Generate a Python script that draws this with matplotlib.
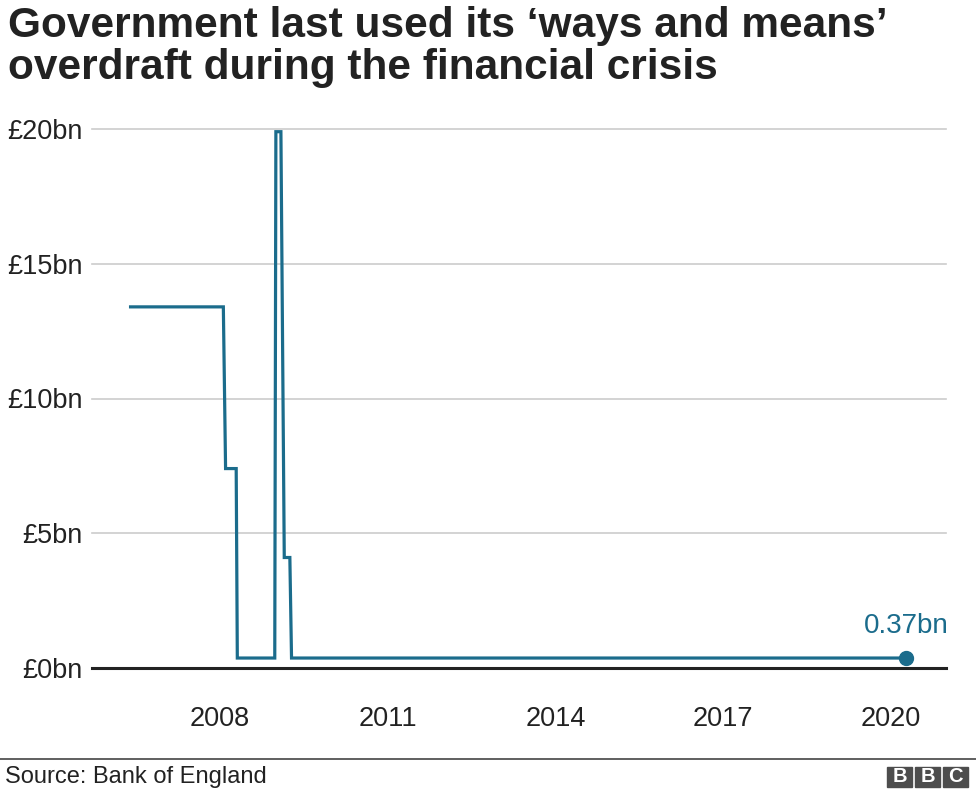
import matplotlib
matplotlib.use("Agg")
import matplotlib.pyplot as plt
from matplotlib.patches import Rectangle

# overdraft balance (fractional years, £bn)
dates = [2006.40, 2008.06, 2008.10, 2008.29, 2008.31, 2008.98, 2009.00,
         2009.09, 2009.15, 2009.25, 2009.28, 2020.27]
values = [13.4, 13.4, 7.4, 7.4, 0.37, 0.37, 19.9, 19.9, 4.1, 4.1, 0.37, 0.37]

year_ticks = [2008, 2011, 2014, 2017, 2020]
y_ticks = [0, 5, 10, 15, 20]
y_labels = ["£0bn", "£5bn", "£10bn", "£15bn", "£20bn"]

title = "Government last used its \u2018ways and means\u2019\noverdraft during the financial crisis"
source = "Source: Bank of England"
end_label = "0.37bn"

line_col = "#1b6c8c"

plt.rcParams['font.family'] = ['Liberation Sans', 'DejaVu Sans']

W, H = 976, 792
fig = plt.figure(figsize=(W / 100, H / 100), dpi=100)
ax = fig.add_axes([92 / W, 1 - 668 / H, (946 - 92) / W, (668 - 129) / H])

ax.set_xlim(2005.71, 2020.99)
ax.set_ylim(0, 20)

for v in y_ticks[1:]:
    ax.axhline(v, color="#cccccc", lw=1.2, zorder=1, clip_on=False)
ax.axhline(0, color="#222222", lw=2.2, zorder=3, clip_on=False)

ax.plot(dates, values, color=line_col, lw=2.3, zorder=4, clip_on=False,
        solid_joinstyle="miter")
ax.plot(dates[-1], values[-1], "o", color=line_col, ms=10, zorder=5, clip_on=False)
ax.annotate(end_label, (dates[-1], values[-1]), xytext=(0, 23),
            textcoords="offset points", color=line_col, fontsize=20,
            ha="center", va="center")

for s in ax.spines.values():
    s.set_visible(False)
ax.set_xticks(year_ticks)
ax.set_xticklabels([str(y) for y in year_ticks])
ax.set_yticks(y_ticks)
ax.set_yticklabels(y_labels)
ax.tick_params(axis="both", length=0, labelsize=19.5, colors="#222222")
ax.tick_params(axis="x", pad=27)
ax.tick_params(axis="y", pad=6.5)

fig.text(8 / W, 1 - 6 / H, title, fontsize=30.5, fontweight="bold", color="#222222",
         ha="left", va="top", linespacing=1.07)

fig.add_artist(plt.Line2D([0, 1], [1 - 759 / H] * 2, color="#444444", lw=1.2))
fig.text(5 / W, 1 - 777 / H, source, fontsize=17, color="#222222", ha="left", va="center")

# BBC logo blocks
for i, letter in enumerate("BBC"):
    x0 = 887 + i * 28
    fig.add_artist(Rectangle((x0 / W, 1 - 787 / H), 25 / W, 20 / H,
                             transform=fig.transFigure, color="#4d4d4d"))
    fig.text((x0 + 12.5) / W, 1 - 777 / H, letter, color="white", fontsize=14.5,
             fontweight="bold", ha="center", va="center")

fig.savefig("out.png", dpi=100)
